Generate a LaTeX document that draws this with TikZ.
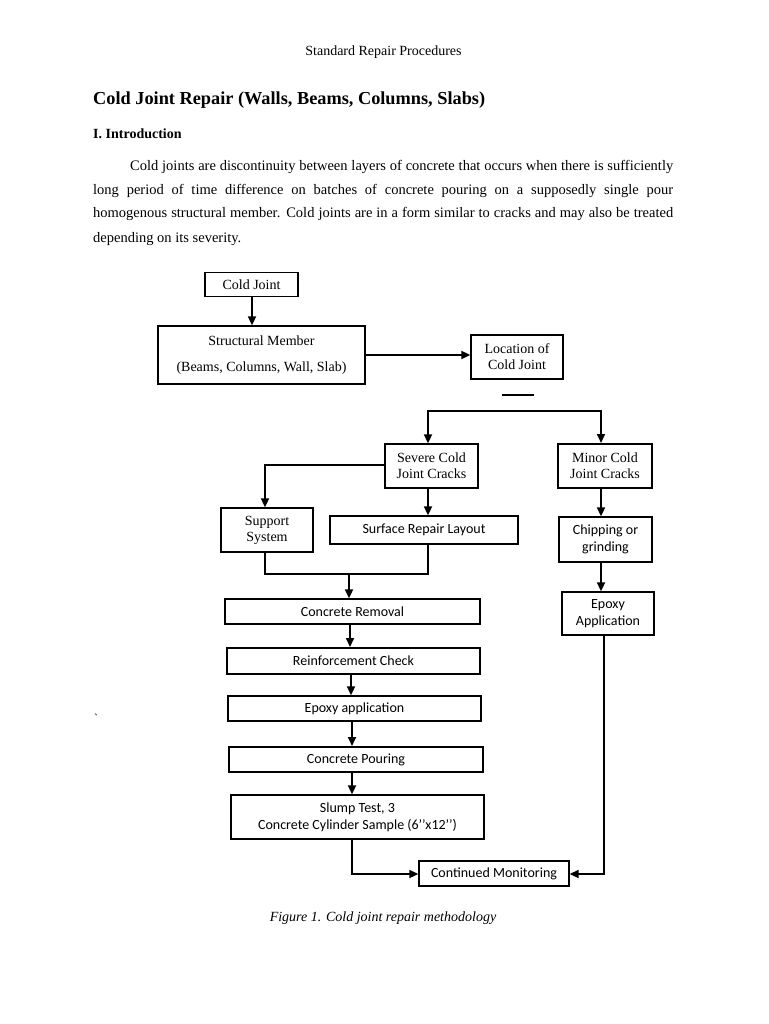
\documentclass[tikz,border=0pt]{standalone}
\usepackage{fontspec}
\setmainfont{Liberation Serif}
\newfontfamily\carlitofont{Carlito}
\usetikzlibrary{arrows.meta}
\begin{document}
\begin{tikzpicture}[x=1pt,y=-1pt,
  box/.style={draw,line width=1.3pt,inner sep=0pt,align=center,font=\fontsize{14}{16}\selectfont},
  cbox/.style={box,font=\carlitofont\fontsize{14}{17}\selectfont},
  thick box/.style={line width=2pt},
  conn/.style={line width=1.7pt},
  arr/.style={conn,-{Triangle[length=9pt,width=8pt]}},
  arrboth/.style={conn,{Triangle[length=9pt,width=8pt]}-{Triangle[length=9pt,width=8pt]}},
  body/.style={inner sep=0pt,anchor=base west,font=\fontsize{14.5}{17}\selectfont}]
\useasboundingbox (0,0) rectangle (768,1024);
\fill[white] (0,0) rectangle (768,1024);
% header and text
\node (hdr) [inner sep=0pt,anchor=base,font=\fontsize{14}{16}\selectfont] at (383.5,55.5) {Standard Repair Procedures};
\node (ttl) [inner sep=0pt,anchor=base west,font=\bfseries\fontsize{18.3}{21}\selectfont] at (93,105) {Cold Joint Repair (Walls, Beams, Columns, Slabs)};
\node (intro) [inner sep=0pt,anchor=base west,font=\bfseries\fontsize{14}{16}\selectfont] at (93,139) {I. Introduction};
\node (p1) [body] at (130,171) {\makebox[543pt][s]{Cold joints are discontinuity between layers of concrete that occurs when there is sufficiently}};
\node (p2) [body] at (93,194.5) {\makebox[580pt][s]{long period of time difference on batches of concrete pouring on a supposedly single pour}};
\node (p3) [body] at (93,218) {\makebox[580pt][s]{homogenous structural member. Cold joints are in a form similar to cracks and may also be treated}};
\node (p4) [body] at (93,242) {depending on its severity.};
\node (tick) [inner sep=0pt,font=\fontsize{12}{14}\selectfont] at (96,718) {\textasciigrave};
\node (cap) [inner sep=0pt,anchor=base,font=\itshape\fontsize{14}{16}\selectfont] at (383,921.5) {Figure 1. Cold joint repair methodology};
% boxes
\node (cj) [box,minimum width=93pt,minimum height=24pt,line width=1.7pt] at (251.5,284.5) {Cold Joint};
\node (sm) [box,minimum width=207pt,minimum height=58pt] at (261.5,355) {Structural Member\\[10pt](Beams, Columns, Wall, Slab)};
\node (loc) [box,minimum width=92pt,minimum height=44pt] at (517,357) {Location of\\Cold Joint};
\node (sev) [box,minimum width=93pt,minimum height=44pt] at (431.5,466) {Severe Cold\\Joint Cracks};
\node (minor) [box,thick box,minimum width=94pt,minimum height=44pt] at (605,466) {Minor Cold\\Joint Cracks};
\node (sup) [box,minimum width=92pt,minimum height=44pt] at (267,530) {Support\\System};
\node (srl) [cbox,minimum width=188pt,minimum height=28pt] at (424,530) {Surface Repair Layout};
\node (chip) [cbox,minimum width=93pt,minimum height=45pt] at (605.5,539.5) {Chipping or\\grinding};
\node (ea2) [cbox,minimum width=92pt,minimum height=43pt] at (608,613.5) {Epoxy\\Application};
\node (cr) [cbox,minimum width=255pt,minimum height=25pt] at (352.5,611.5) {Concrete Removal};
\node (rc) [cbox,thick box,minimum width=253pt,minimum height=26pt] at (353.5,661) {Reinforcement Check};
\node (ea) [cbox,minimum width=253pt,minimum height=25pt] at (354.5,708.5) {Epoxy application};
\node (cp) [cbox,thick box,minimum width=254pt,minimum height=25pt] at (356,759.5) {Concrete Pouring};
\node (st) [cbox,minimum width=253pt,minimum height=44pt] at (357.5,817) {Slump Test, 3\\Concrete Cylinder Sample (6’{}’x12’{}’)};
\node (cm) [cbox,minimum width=150pt,minimum height=25pt] at (494,873.5) {Continued Monitoring};
% coordinates
\coordinate (s1) at (428,411);
\coordinate (s2) at (601,411);
\coordinate (la) at (502,395);
\coordinate (lb) at (534,395);
\coordinate (ml) at (265,574);
\coordinate (mr) at (428,574);
\coordinate (mm) at (349,574);
\coordinate (bl) at (352,874);
\coordinate (br) at (604,874);
% connectors
\draw[arr] (cj.south -| 252,0) -- (sm.north -| 252,0);
\draw[arr] (sm.east) -- (sm.east -| loc.west);
\draw[conn] (la) -- (lb);
\draw[arrboth] (s1 |- sev.north) -- (s1) -- (s2) -- (s2 |- minor.north);
\draw[arr] (sev.west |- 0,465) -| (ml |- sup.north);
\draw[arr] (s1 |- sev.south) -- (s1 |- srl.north);
\draw[arr] (s2 |- minor.south) -- (s2 |- chip.north);
\draw[arr] (s2 |- chip.south) -- (s2 |- ea2.north);
\draw[conn] (ml |- sup.south) -- (ml) -- (mr) -- (mr |- srl.south);
\draw[arr] (mm) -- (mm |- cr.north);
\draw[arr] (cr.south -| 350,0) -- (rc.north -| 350,0);
\draw[arr] (rc.south -| 351,0) -- (ea.north -| 351,0);
\draw[arr] (ea.south -| 352,0) -- (cp.north -| 352,0);
\draw[arr] (cp.south -| 352,0) -- (st.north -| 352,0);
\draw[arr] (bl |- st.south) -- (bl) -- (bl -| cm.west);
\draw[arr] (br |- ea2.south) -- (br) -- (br -| cm.east);
\end{tikzpicture}
\end{document}
